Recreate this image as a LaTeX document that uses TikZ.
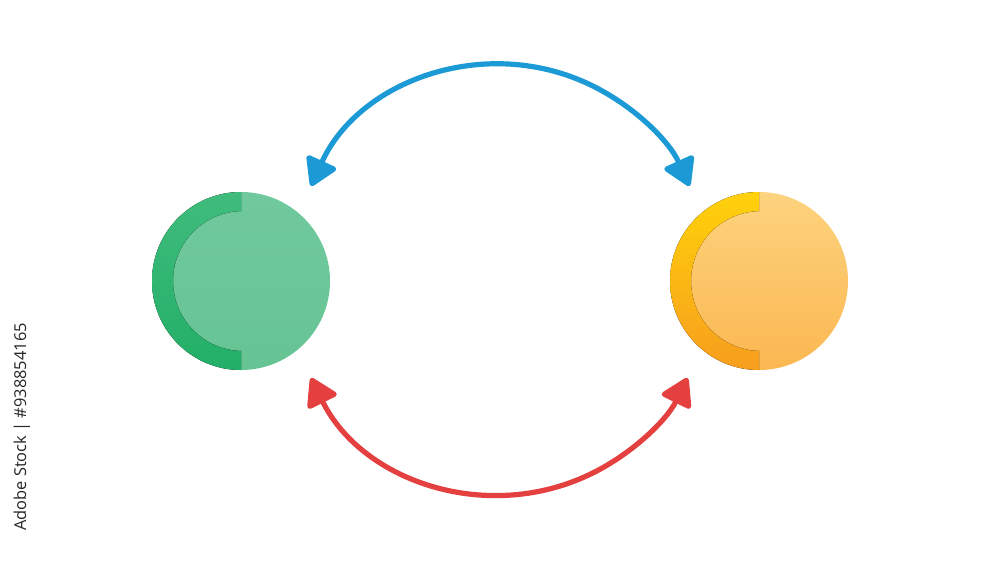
\documentclass[tikz,border=0pt]{standalone}
\usepackage{fontspec}
\newfontfamily\wmfont{Open Sans}
\usetikzlibrary{arrows.meta}
\definecolor{blueA}{HTML}{1B9AD6}
\definecolor{redA}{HTML}{E4403F}
\definecolor{greenLt}{HTML}{70C99D}
\definecolor{greenLb}{HTML}{66C494}
\definecolor{greenDt}{HTML}{40BC7C}
\definecolor{greenDb}{HTML}{22AF68}
\definecolor{orangeLt}{HTML}{FDD37E}
\definecolor{orangeLb}{HTML}{FBB751}
\definecolor{orangeDt}{HTML}{FFD20A}
\definecolor{orangeDb}{HTML}{F79D1E}
\begin{document}
\begin{tikzpicture}[x=0.5pt,y=-0.5pt,
  ball/.style 2 args={circle, inner sep=0pt, minimum size=89pt,
    top color=#1, bottom color=#2, draw=none},
  crescent/.style 2 args={path picture={
    \begin{scope}
      \clip (path picture bounding box.south west) rectangle (path picture bounding box.north);
      \fill[even odd rule, top color=#1, bottom color=#2]
        (path picture bounding box.center) circle[radius=90]
        ([xshift=1pt]path picture bounding box.center) circle[radius=70];
    \end{scope}}},
  link/.style={line width=2.6pt, line cap=round,
    {Triangle[length=15pt,width=17.5pt,round]}-{Triangle[length=15pt,width=17.5pt,round]}},
  wm/.style={rotate=90, font=\wmfont\fontsize{8.2}{10}\selectfont, text=black!85},
]
\useasboundingbox[fill=white] (0,0) rectangle (1000,563);

\node[ball={greenLt}{greenLb}, crescent={greenDt}{greenDb}] (green) at (241,281) {};
\node[ball={orangeLt}{orangeLb}, crescent={orangeDt}{orangeDb}] (orange) at (759,281) {};

\coordinate (bl) at (311,186);
\coordinate (br) at (689,186);
\coordinate (rl) at (311,378);
\coordinate (rr) at (689,378);

\draw[link, color=blueA] (bl) arc[start angle=204.5, end angle=335.5, radius=208];
\draw[link, color=redA] (rl) arc[start angle=153.7, end angle=26.3, radius=210];

\node[wm] (mark) at (22,427) {Adobe Stock | \#938854165};
\end{tikzpicture}
\end{document}
